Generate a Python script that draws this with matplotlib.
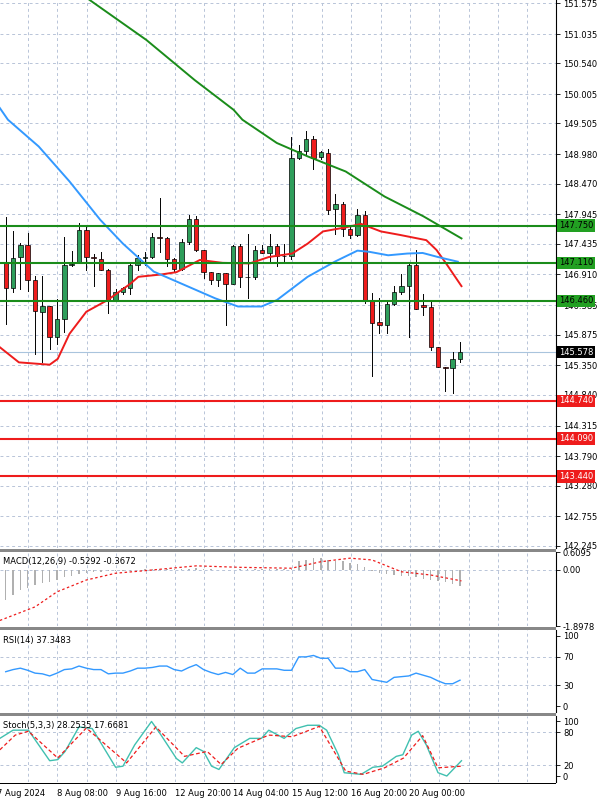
import numpy as np
import matplotlib.pyplot as plt
from matplotlib.patches import Rectangle
import matplotlib.transforms as mtransforms

# candles: open, close, high, low
opens = [147.10, 146.67, 147.21, 147.42, 146.82, 146.26, 146.37, 145.83, 146.15, 147.07,
         147.10, 147.67, 147.21, 147.18, 146.99, 146.47, 146.61, 146.67, 147.07, 147.19,
         147.21, 147.56, 147.54, 147.17, 147.01, 147.46, 147.86, 147.33, 146.96, 146.81,
         146.94, 146.75, 147.40, 146.87, 146.86, 147.33, 147.28, 147.40, 147.22, 147.22,
         148.91, 149.03, 149.23, 148.93, 149.00, 148.03, 148.12, 147.70, 147.59, 147.94,
         146.47, 146.09, 146.04, 146.41, 146.61, 146.71, 147.07, 146.38, 146.35, 145.66,
         145.32, 145.30, 145.46]
closes = [146.67, 147.19, 147.42, 146.81, 146.29, 146.37, 145.83, 146.15, 147.07, 147.09,
          147.67, 147.21, 147.20, 146.99, 146.47, 146.61, 146.67, 147.07, 147.19, 147.21,
          147.56, 147.54, 147.17, 147.01, 147.46, 147.86, 147.33, 146.96, 146.81, 146.94,
          146.75, 147.40, 146.87, 146.86, 147.33, 147.28, 147.40, 147.22, 147.23, 148.91,
          149.03, 149.23, 148.91, 149.01, 148.02, 148.12, 147.70, 147.59, 147.94, 146.47,
          146.08, 146.04, 146.41, 146.61, 146.71, 147.07, 146.32, 146.35, 145.66, 145.32,
          145.30, 145.46, 145.578]
highs = [147.90, 147.65, 147.45, 147.63, 146.88, 146.88, 146.37, 146.49, 147.55, 147.32,
         147.80, 147.72, 147.27, 147.30, 147.00, 146.66, 146.70, 147.10, 147.24, 147.30,
         147.63, 148.22, 147.56, 147.20, 147.52, 147.94, 147.92, 147.33, 146.96, 146.94,
         146.94, 147.42, 147.44, 147.60, 147.40, 147.42, 147.60, 147.44, 147.44, 149.28,
         149.14, 149.38, 149.29, 149.04, 149.07, 148.30, 148.16, 147.72, 148.04, 148.00,
         146.60, 146.50, 146.45, 146.72, 146.91, 147.12, 147.33, 146.57, 146.47, 145.66,
         145.32, 145.58, 145.75]
lows = [146.06, 146.61, 146.66, 146.62, 145.55, 145.40, 145.63, 145.72, 145.92, 147.06,
        147.10, 146.99, 146.71, 146.99, 146.25, 146.47, 146.58, 146.58, 146.99, 147.07,
        147.19, 147.30, 147.05, 146.95, 146.99, 147.43, 147.31, 146.85, 146.75, 146.72,
        146.05, 146.75, 146.70, 146.51, 146.84, 147.28, 147.14, 147.06, 147.14, 147.18,
        148.90, 148.98, 148.73, 148.89, 147.95, 147.60, 147.58, 147.53, 147.58, 146.42,
        145.17, 145.90, 145.90, 146.39, 146.58, 145.83, 146.31, 146.21, 145.62, 145.32,
        144.91, 144.88, 145.40]

# moving averages (candle index, price)
ma_red_x = [-0.8, 1.8, 6.0, 7.1, 8.7, 11.0, 13.9, 17.0, 18.1, 21.2, 23.3, 26.5, 29.6, 33.3,
            35.9, 39.1, 41.2, 43.3, 46.4, 48.5, 51.2, 53.8, 57.4, 58.8, 60.1, 62.2]
ma_red_y = [145.66, 145.40, 145.36, 145.46, 145.89, 146.27, 146.47, 146.75, 146.87, 146.91,
            146.95, 147.16, 147.11, 147.10, 147.21, 147.27, 147.44, 147.65, 147.72, 147.78,
            147.65, 147.59, 147.50, 147.33, 147.10, 146.71]
ma_blue_x = [-0.8, 0.3, 4.5, 8.7, 12.9, 16.0, 20.2, 24.4, 28.6, 31.7, 34.9, 37.0, 41.2, 44.9,
             48.0, 49.6, 52.2, 54.8, 56.9, 59.0, 61.7]
ma_blue_y = [149.77, 149.57, 149.11, 148.51, 147.85, 147.44, 146.96, 146.73, 146.50, 146.36,
             146.36, 146.47, 146.87, 147.13, 147.32, 147.30, 147.24, 147.27, 147.28, 147.21, 147.13]
ma_green_x = [11.2, 19.2, 25.8, 31.1, 32.3, 37.0, 41.2, 46.4, 51.7, 57.0, 62.2]
ma_green_y = [151.65, 150.94, 150.25, 149.74, 149.57, 149.17, 148.94, 148.68, 148.25, 147.91, 147.53]

resist = [147.750, 147.110, 146.460]
support = [144.740, 144.090, 143.440]
last_price = 145.578
price_ticks = [151.575, 151.035, 150.540, 150.005, 149.505, 148.980, 148.470, 147.945, 147.435,
               146.910, 146.385, 145.875, 145.350, 144.840, 144.315, 143.790, 143.280, 142.755, 142.245]

macd_hist = [-1.03, -0.85, -0.68, -0.60, -0.50, -0.45, -0.40, -0.35, -0.25, -0.20,
             -0.15, -0.10, -0.08, -0.06, -0.05, -0.04, -0.03, -0.02, 0.00, 0.02,
             0.04, 0.05, 0.05, 0.03, 0.02, 0.04, 0.06, 0.04, 0.02, 0.01,
             0.00, 0.01, 0.03, 0.02, 0.02, 0.03, 0.04, 0.03, 0.03, 0.02,
             0.30, 0.35, 0.40, 0.40, 0.35, 0.30, 0.30, 0.25, 0.20, 0.10,
             -0.05, -0.10, -0.15, -0.18, -0.20, -0.22, -0.25, -0.30, -0.33, -0.38,
             -0.42, -0.47, -0.53]
macd_sig_x = [-0.8, 4, 7, 11, 15, 20, 26, 32, 39, 43, 47, 50, 54, 58, 62.2]
macd_sig_y = [-1.71, -1.25, -0.74, -0.34, -0.11, 0.00, 0.14, 0.09, 0.06, 0.28, 0.40, 0.34, -0.06, -0.17, -0.37]

rsi = [49, 52, 54, 51, 47, 46, 43, 47, 52, 53, 57, 54, 52, 52, 46, 47, 47, 50, 54, 54,
       55, 57, 57, 52, 50, 55, 59, 52, 48, 45, 48, 45, 54, 47, 47, 53, 53, 53, 51, 51,
       70, 70, 72, 68, 68, 54, 54, 49, 49, 52, 38, 36, 34, 41, 42, 43, 47, 44, 41, 36,
       32, 32, 37]

stoch_k_x = [-0.8, 1.0, 3.1, 6.0, 7.1, 8.1, 10.0, 11.8, 15.0, 16.0, 17.6, 19.9, 21.2, 23.3,
             24.1, 26.0, 27.0, 28.1, 29.1, 31.2, 33.3, 34.9, 35.9, 38.0, 39.6, 41.2, 42.8,
             43.8, 45.4, 46.2, 48.5, 50.1, 51.4, 53.3, 54.2, 55.4, 56.3, 57.4, 59.0, 60.2, 62.2]
stoch_k_y = [69, 84, 84, 28, 30, 45, 90, 87, 16, 18, 57, 100, 75, 32, 24, 52, 45, 18, 12, 52,
             69, 69, 84, 69, 87, 93, 93, 84, 39, 6, 3, 16, 18, 36, 39, 75, 82, 57, 6, 0, 28]
stoch_d_x = [-0.8, 1.3, 3.1, 7.1, 11.0, 16.5, 20.5, 24.4, 27.5, 29.4, 31.7, 35.9, 39.1, 42.8,
             46.4, 48.8, 51.7, 54.3, 56.9, 59.0, 62.2]
stoch_d_y = [48, 75, 82, 33, 88, 24, 90, 36, 45, 21, 51, 75, 72, 91, 9, 3, 15, 33, 74, 15, 18]

date_labels = ["7 Aug 2024", "8 Aug 08:00", "9 Aug 16:00", "12 Aug 20:00",
               "14 Aug 04:00", "15 Aug 12:00", "16 Aug 20:00", "20 Aug 00:00"]

GREEN = "#2e9e5b"
RED = "#ee1c1c"
FS = 6.0
plt.rcParams["font.family"] = "DejaVu Sans"

W, H = 600, 801
fig = plt.figure(figsize=(6, 8.01), dpi=100)


def add_ax(top, bottom):
    return fig.add_axes([0, 1 - bottom / H, 556 / W, (bottom - top) / H])


ax = add_ax(0, 548)
ax_macd = add_ax(552, 626)
ax_rsi = add_ax(630, 712)
ax_st = add_ax(716, 782)

xmin, xmax = -0.78, 75.1
grid_x = [3.04 + 4.01 * k for k in range(19)]
for a in (ax, ax_macd, ax_rsi, ax_st):
    a.set_xlim(xmin, xmax)
    a.set_xticks([])
    for gx in grid_x:
        a.axvline(gx, color="#b8c4d8", lw=0.7, ls=(0, (3, 3)), zorder=0)
    for s in ("top", "left", "bottom"):
        a.spines[s].set_visible(False)
    a.spines["right"].set_color("black")
    a.yaxis.tick_right()
    a.tick_params(axis="y", labelsize=FS, length=3, pad=2, width=0.6)

# main price panel
ax.set_ylim(142.21, 151.627)
ax.set_yticks(price_ticks)
ax.set_yticklabels([f"{t:.3f}" for t in price_ticks])
for t in price_ticks:
    ax.axhline(t, color="#b8c4d8", lw=0.7, ls=(0, (3, 3)), zorder=0)

idx = np.arange(len(opens))
for i in idx:
    o, c, h, l = opens[i], closes[i], highs[i], lows[i]
    col = GREEN if c >= o else RED
    ax.plot([i, i], [l, h], color="black", lw=0.7, zorder=3)
    lo, hi = min(o, c), max(o, c)
    ax.add_patch(Rectangle((i - 0.3, lo), 0.6, max(hi - lo, 0.01), facecolor=col,
                           edgecolor="black", lw=0.5, zorder=4))

ax.plot(ma_red_x, ma_red_y, color=RED, lw=1.4, zorder=5)
ax.plot(ma_blue_x, ma_blue_y, color="#3399ff", lw=1.4, zorder=5)
ax.plot(ma_green_x, ma_green_y, color="#1a8c1a", lw=1.4, zorder=5)

trans = mtransforms.blended_transform_factory(ax.transAxes, ax.transData)
for r in resist:
    ax.axhline(r, color="#1a8c1a", lw=1.5, zorder=6)
    ax.text(1.005, r, f"{r:.3f}", transform=trans, fontsize=FS, va="center", ha="left",
            color="black", clip_on=False, zorder=10,
            bbox=dict(boxstyle="square,pad=0.2", fc="#22a022", ec="none"))
for s in support:
    ax.axhline(s, color=RED, lw=1.5, zorder=6)
    ax.text(1.005, s, f"{s:.3f}", transform=trans, fontsize=FS, va="center", ha="left",
            color="white", clip_on=False, zorder=10,
            bbox=dict(boxstyle="square,pad=0.2", fc=RED, ec="none"))
ax.axhline(last_price, color="#a9c4dd", lw=0.8, zorder=2)
ax.text(1.005, last_price, f"{last_price:.3f}", transform=trans, fontsize=FS, va="center",
        ha="left", color="white", clip_on=False, zorder=10,
        bbox=dict(boxstyle="square,pad=0.2", fc="black", ec="none"))

# MACD
ax_macd.set_ylim(-1.8978, 0.6095)
ax_macd.set_yticks([0.6095, 0.0, -1.8978])
ax_macd.set_yticklabels(["0.6095", "0.00", "-1.8978"])
ax_macd.axhline(0, color="#b8c4d8", lw=0.7, ls=(0, (3, 3)), zorder=0)
ax_macd.bar(idx, macd_hist, width=0.2, color="#b0b0b0", zorder=2)
ax_macd.plot(macd_sig_x, macd_sig_y, color=RED, lw=0.9, ls=(0, (2, 2)), zorder=3)
ax_macd.text(0.005, 0.93, "MACD(12,26,9) -0.5292 -0.3672", transform=ax_macd.transAxes,
             fontsize=FS, va="top")

# RSI
ax_rsi.set_ylim(-8, 108)
ax_rsi.set_yticks([100, 70, 30, 0])
for v in (70, 30):
    ax_rsi.axhline(v, color="#b8c4d8", lw=0.7, ls=(0, (3, 3)), zorder=0)
ax_rsi.plot(idx, rsi, color="#3399ff", lw=1.0, zorder=3)
ax_rsi.text(0.005, 0.93, "RSI(14) 37.3483", transform=ax_rsi.transAxes, fontsize=FS, va="top")

# Stochastic
ax_st.set_ylim(-11, 110)
ax_st.set_yticks([100, 80, 20, 0])
for v in (80, 20):
    ax_st.axhline(v, color="#b8c4d8", lw=0.7, ls=(0, (3, 3)), zorder=0)
ax_st.plot(stoch_k_x, stoch_k_y, color="#40c0b0", lw=1.0, zorder=3)
ax_st.plot(stoch_d_x, stoch_d_y, color=RED, lw=0.9, ls=(0, (3, 2)), zorder=3)
ax_st.text(0.005, 0.93, "Stoch(5,3,3) 28.2535 17.6681", transform=ax_st.transAxes,
           fontsize=FS, va="top")

# panel separators
for y0 in (548, 626, 712):
    fig.add_artist(Rectangle((0, 1 - (y0 + 4) / H), 556 / W, 3 / H, transform=fig.transFigure,
                             facecolor="#888888", edgecolor="none"))
fig.add_artist(Rectangle((0, 1 - 784 / H), 556 / W, 1.2 / H, transform=fig.transFigure,
                         facecolor="black", edgecolor="none"))

# date labels
label_px = [-3, 57, 116, 175, 233, 292, 351, 409]
for lab, px in zip(date_labels, label_px):
    fig.text(px / W, 1 - 793 / H, lab, fontsize=FS, va="center", ha="left")

fig.savefig("out.png", dpi=100, facecolor="white")
